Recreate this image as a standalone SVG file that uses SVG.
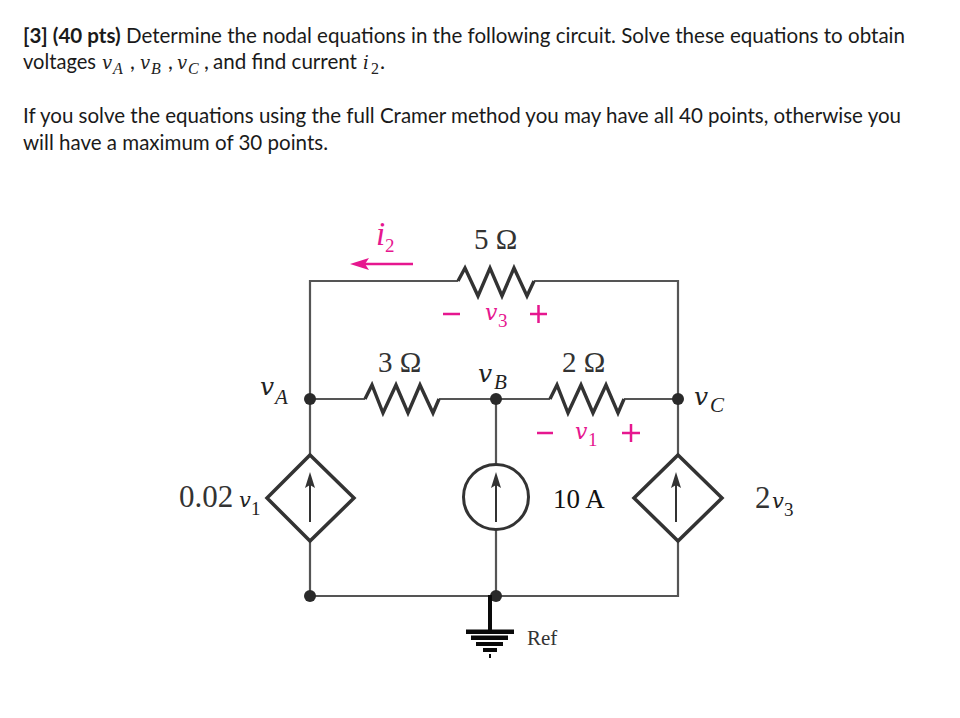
<svg xmlns="http://www.w3.org/2000/svg" width="960" height="718" viewBox="0 0 960 718">
<style>
.t{font-family:"Lato","Open Sans",sans-serif;font-size:21.5px;fill:#1a1a1a}
.b{font-weight:700}
.m{font-family:"DejaVu Serif",serif;font-style:italic;font-size:18px;fill:#222}
.ms{font-family:"Liberation Serif",serif;font-style:italic;font-size:16px;fill:#222}
.s{font-family:"Liberation Serif",serif;font-size:29px;fill:#333}
.v{font-family:"DejaVu Serif",serif;font-style:italic;font-size:25px;fill:#222}
.vs{font-family:"Liberation Serif",serif;font-style:italic;font-size:21px;fill:#222}
.d1{font-style:normal;font-size:19px}
.p{fill:#e6178f}
.w{fill:none;stroke:#555;stroke-width:2.2}
.r{fill:none;stroke:#333;stroke-width:3.4;stroke-linejoin:miter}
.d{fill:none;stroke:#333;stroke-width:3.5}
.a{fill:none;stroke:#333;stroke-width:2}
.h{fill:#333}
.dot{fill:#2a2a2a}
.pl{fill:none;stroke:#e6178f;stroke-width:2.5}
</style>
<rect width="960" height="718" fill="#fff"/>
<g id="problem-text">
<text class="t" x="23" y="43" textLength="882" lengthAdjust="spacingAndGlyphs"><tspan class="b">[3] (40 pts)</tspan> Determine the nodal equations in the following circuit. Solve these equations to obtain</text>
<text class="t" x="23" y="69" textLength="73" lengthAdjust="spacingAndGlyphs">voltages</text>
<text class="m" x="102" y="69">v</text><text class="ms" x="113" y="74">A</text><text class="t" x="130" y="69">,</text>
<text class="m" x="140" y="69">v</text><text class="ms" x="151" y="74">B</text><text class="t" x="168" y="69">,</text>
<text class="m" x="177" y="69">v</text><text class="ms" x="188" y="74">C</text><text class="t" x="204" y="69">,</text>
<text class="t" x="213" y="69" textLength="144" lengthAdjust="spacingAndGlyphs">and find current</text>
<text class="m" x="363" y="69">i</text><text class="ms" x="371" y="74" style="font-style:normal">2</text><text class="t" x="380" y="69">.</text>
<text class="t" x="23" y="123" textLength="878" lengthAdjust="spacingAndGlyphs">If you solve the equations using the full Cramer method you may have all 40 points, otherwise you</text>
<text class="t" x="23" y="150" textLength="305" lengthAdjust="spacingAndGlyphs">will have a maximum of 30 points.</text>
</g>
<g id="connectors">
<path class="w" d="M458 281H310V455M534 281H678V455"/>
<path class="w" d="M310 399H365M439 399H550M624 399H678"/>
<path class="w" d="M496 399V465M496 529V596"/>
<path class="w" d="M310 541V596H678V541"/>
</g>
<g id="resistor-5">
<path class="r" d="M458 281L465 268L478 296L490 268L502 296L514 268L527 296L534 281"/>
<text class="s" x="474" y="249">5 Ω</text>
</g>
<g id="resistor-3">
<path class="r" d="M365 399L372 385L383 413L396 385L408 413L420 385L433 413L439 399"/>
<text class="s" x="378" y="372">3 Ω</text>
</g>
<g id="resistor-2">
<path class="r" d="M550 399L557 385L568 413L581 385L593 413L606 385L618 413L624 399"/>
<text class="s" x="562" y="372">2 Ω</text>
</g>
<g id="label-i2">
<text class="vs p" x="376" y="245" style="font-size:33px">i</text><text class="vs p d1" x="385" y="252">2</text>
<path class="pl" d="M413 264H358"/>
<path class="p" d="M350 264L369 258L365 264L369 270Z"/>
</g>
<g id="label-v3">
<path class="pl" d="M443 314H460M530 314H547M538.500 305V323"/>
<text class="v p" x="485" y="320" style="font-size:22px">v</text><text class="vs p d1" x="498" y="327">3</text>
</g>
<g id="label-v1">
<path class="pl" d="M537 433H553M622 433H640M631 424V442"/>
<text class="v p" x="575" y="439" style="font-size:22px">v</text><text class="vs p d1" x="588" y="446">1</text>
</g>
<g id="node-a">
<circle class="dot" cx="310" cy="399" r="6"/>
<text class="v" x="260" y="395">v</text><text class="vs" x="275" y="404">A</text>
</g>
<g id="node-b">
<circle class="dot" cx="496" cy="399" r="6"/>
<text class="v" x="478" y="382">v</text><text class="vs" x="494" y="389">B</text>
</g>
<g id="node-c">
<circle class="dot" cx="678" cy="399" r="6"/>
<text class="v" x="694" y="405">v</text><text class="vs" x="710" y="412">C</text>
</g>
<g id="source-left">
<path class="d" d="M310 455L354 498L310 541L267 498Z"/>
<path class="a" d="M310 522V480"/>
<path class="h" d="M310 472L315 488L310 485L305 488Z"/>
<text class="s" x="179" y="507" style="font-size:31px">0.02</text>
<text class="v" x="239" y="507" style="font-size:21px">v</text><text class="vs d1" x="251" y="515">1</text>
</g>
<g id="source-center">
<circle class="d" cx="496" cy="497" r="32.500" style="stroke-width:3"/>
<path class="a" d="M496 522V480"/>
<path class="h" d="M496 472L501 488L496 485L491 488Z"/>
<text class="s" x="553" y="508" style="fill:#111;font-size:27px">10 A</text>
</g>
<g id="source-right">
<path class="d" d="M678 455L722 498L678 541L634 498Z"/>
<path class="a" d="M676 522V480"/>
<path class="h" d="M676 472L681 488L676 485L671 488Z"/>
<text class="s" x="755" y="508" style="font-size:31px">2</text>
<text class="v" x="772" y="508" style="font-size:21px">v</text><text class="vs d1" x="784" y="516">3</text>
</g>
<g id="ground">
<circle class="dot" cx="310" cy="596" r="6"/>
<circle class="dot" cx="496" cy="596" r="6"/>
<path d="M490 595V632" fill="none" stroke="#0a0a0a" stroke-width="4"/>
<path fill="#0a0a0a" d="M466 629.500H514V634H466ZM471 635.500H508V640H471ZM476 642H503V646H476ZM483 648H497V652H483ZM489 654H491V658H489Z"/>
<text class="s" x="527" y="645" style="font-size:21px">Ref</text>
</g>
</svg>
